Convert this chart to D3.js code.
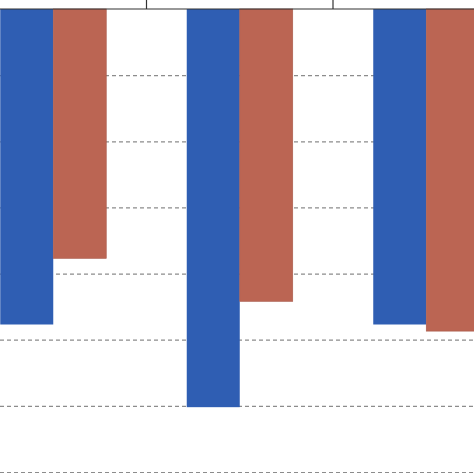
<!DOCTYPE html>
<html><head><meta charset="utf-8">
<script src="https://cdn.jsdelivr.net/npm/d3@7"></script>
<style>html,body{margin:0;padding:0;background:#fff;overflow:hidden}</style>
</head><body>
<svg id="c" width="474" height="474"></svg>
<script>
const categories = ["A", "B", "C"];
const seriesNames = ["Series 1", "Series 2"];
const series1 = [-4.77, -6.02, -4.77];
const series2 = [-3.77, -4.42, -4.87];
const yTicks = [0, -1, -2, -3, -4, -5, -6, -7];
const colors = ["#2f5eb3", "#bb6553"];

const svg = d3.select("#c");
const W = 474;
const x0 = d3.scaleBand().domain(categories).range([-40, 519.5]).padding(0);
const groupInner = 106;
const x1 = d3.scaleBand().domain(seriesNames)
  .range([(x0.bandwidth() - groupInner) / 2, (x0.bandwidth() + groupInner) / 2]).padding(0);
const y = d3.scaleLinear().domain([0, -7]).range([9, 472]);

// gridlines
const grid = svg.append("g").attr("transform", "translate(0,0)")
  .call(d3.axisLeft(y).tickValues(yTicks.filter(d => d !== 0)).tickSize(-W).tickFormat(""));
grid.select(".domain").remove();
grid.selectAll(".tick line").attr("stroke", "#8c8c8c").attr("stroke-width", 1.2).attr("stroke-dasharray", "4,3");

// bars
const data = categories.map((c, i) => ({ c, vals: [series1[i], series2[i]] }));
const g = svg.append("g");
data.forEach(d => {
  d.vals.forEach((v, j) => {
    g.append("rect")
      .attr("x", x0(d.c) + x1(seriesNames[j]))
      .attr("y", y(0))
      .attr("width", x1.bandwidth())
      .attr("height", y(v) - y(0))
      .attr("fill", colors[j])
      .attr("stroke", j === 1 ? "#a9594a" : "none")
      .attr("stroke-width", 0.6);
  });
});

// top axis with ticks at category boundaries
const boundaries = categories.slice(1).map(c => x0(c));
svg.append("line").attr("x1", 0).attr("x2", W).attr("y1", y(0)).attr("y2", y(0))
  .attr("stroke", "#333").attr("stroke-width", 1.2);
svg.selectAll(".bt").data(boundaries).enter().append("line")
  .attr("x1", d => d).attr("x2", d => d).attr("y1", 0).attr("y2", y(0))
  .attr("stroke", "#333").attr("stroke-width", 1.2);
</script>
</body></html>
